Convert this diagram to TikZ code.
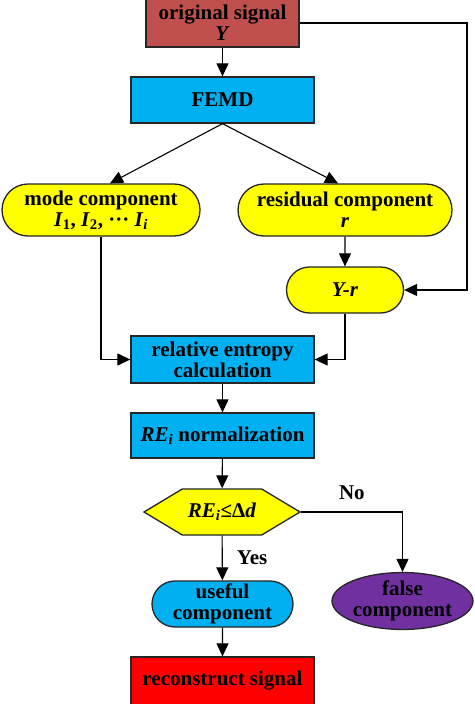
\documentclass[tikz,border=0pt]{standalone}
\usepackage{fontspec}
\setmainfont{Liberation Serif}
\usepackage{xcolor}
\usepackage{tikz}
\usetikzlibrary{positioning,arrows.meta,shapes.misc,shapes.geometric,shapes.symbols}

\definecolor{sigred}{HTML}{C0504D}
\definecolor{proccyan}{HTML}{00B0F0}
\definecolor{termyel}{HTML}{FFFF00}
\definecolor{falsepur}{HTML}{7030A0}
\definecolor{recred}{HTML}{FF0000}

\begin{document}
\begin{tikzpicture}[x=1pt,y=-1pt,->,>={Triangle[length=13pt,width=12pt]},line width=1.1pt,
	every node/.style={font=\fontsize{21}{21}\selectfont\bfseries,align=center,inner sep=0pt,line width=1.3pt},
	proc/.style={rectangle,draw=black!85,fill=proccyan,minimum width=183pt,minimum height=46pt},
	term/.style={rounded rectangle,draw=black!85,fill=termyel,minimum height=52pt},
	decide/.style={signal,signal to=east and west,signal pointer angle=62,draw=black!85,fill=termyel,minimum width=156pt,minimum height=46pt},
	lbl/.style={font=\fontsize{21}{21}\selectfont\bfseries}]
	\useasboundingbox (0,0) rectangle (474,704);

	\node [proc,fill=sigred,minimum width=153pt,minimum height=48pt] at (222.5,23) (sig) {original signal\\\textit{Y}};
	\node [proc] at (222.5,100) (femd) {FEMD};
	\node [term,minimum width=198pt] at (101,210) (mode) {mode component\\\textit{I}\textsubscript{1}, \textit{I}\textsubscript{2}, \textperiodcentered\textperiodcentered\textperiodcentered\ \textit{I}\textsubscript{\textit{i}}};
	\node [term,minimum width=214pt] at (345,210) (res) {residual component\\\textit{r}};
	\node [term,minimum width=117pt,minimum height=46pt] at (345,290) (yr) {\textit{Y-r}};
	\node [proc,minimum height=47pt] at (222.5,359.5) (rel) {relative entropy\\calculation};
	\node [proc,minimum height=45pt] at (222.5,435.5) (norm) {\textit{RE}\textsubscript{\textit{i}} normalization};
	\node [decide] at (222,512) (dec) {\textit{RE}\textsubscript{\textit{i}}≤Δ\textit{d}};
	\node [term,fill=proccyan,minimum width=141pt,minimum height=46pt] at (222.5,604) (use) {useful\\component};
	\node [ellipse,draw=black!85,fill=falsepur,minimum width=141pt,minimum height=52pt] at (402.5,601) (fal) {false\\component};
	\node [proc,fill=recred,minimum height=48pt] at (222.5,681) (rec) {reconstruct signal};
	\coordinate (rt) at (467,23);

	\path[->]
	(sig) edge (femd)
	(femd.south) edge ([xshift=9pt]mode.north)
	(femd.south) edge ([xshift=-7pt]res.north)
	(res) edge (yr)
	(rel) edge (norm)
	(norm) edge (dec)
	(dec) edge node [lbl,right=14pt] {Yes} (use)
	(use) edge (rec);

	\draw (sig.east) -- (rt) |- (yr.east);
	\draw (mode.south) |- (rel.west);
	\draw (yr.south) |- (rel.east);
	\draw (dec.east) -| node [lbl,pos=0.25,above=12pt] {No} (fal.north);
\end{tikzpicture}
\end{document}
